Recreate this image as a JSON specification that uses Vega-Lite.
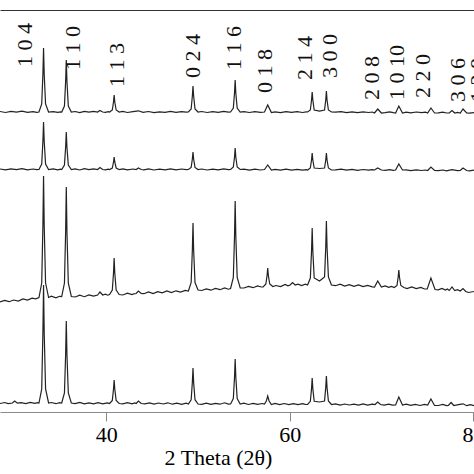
{
"$schema":"https://vega.github.io/schema/vega-lite/v6.json",
"width":474,"height":402,
"autosize":{"type":"none"},
"padding":{"left":0,"right":0,"top":10,"bottom":62},
"background":"white",
"config":{"view":{"stroke":null}},
"datasets":{
"xrd":[
{"s":"a","t":28.4,"i":300.5},{"s":"a","t":29.0,"i":299.5},{"s":"a","t":29.6,"i":300.6},{"s":"a","t":30.2,"i":299.8},{"s":"a","t":30.8,"i":300.8},{"s":"a","t":31.4,"i":299.6},{"s":"a","t":32.0,"i":300.4},{"s":"a","t":32.4,"i":299.7},
{"s":"a","t":32.65,"i":300},{"s":"a","t":32.95,"i":308},{"s":"a","t":33.08,"i":338},{"s":"a","t":33.15,"i":364},{"s":"a","t":33.22,"i":338},{"s":"a","t":33.37,"i":308},{"s":"a","t":33.7,"i":300},
{"s":"a","t":34.2,"i":300.3},{"s":"a","t":34.7,"i":299.6},{"s":"a","t":35.0,"i":300.2},
{"s":"a","t":35.13,"i":300},{"s":"a","t":35.43,"i":306},{"s":"a","t":35.56,"i":331},{"s":"a","t":35.63,"i":352},{"s":"a","t":35.70,"i":331},{"s":"a","t":35.85,"i":306},{"s":"a","t":36.18,"i":300},
{"s":"a","t":36.6,"i":300.5},{"s":"a","t":37.1,"i":299.4},{"s":"a","t":37.6,"i":300.6},{"s":"a","t":38.1,"i":299.8},{"s":"a","t":38.6,"i":300.7},
{"s":"a","t":39.05,"i":300},{"s":"a","t":39.3,"i":301.5},{"s":"a","t":39.6,"i":300},
{"s":"a","t":39.9,"i":299.6},{"s":"a","t":40.2,"i":300.3},
{"s":"a","t":40.35,"i":300},{"s":"a","t":40.65,"i":302},{"s":"a","t":40.78,"i":310},{"s":"a","t":40.85,"i":317},{"s":"a","t":40.92,"i":310},{"s":"a","t":41.07,"i":302},{"s":"a","t":41.4,"i":300},
{"s":"a","t":41.8,"i":300.6},{"s":"a","t":42.3,"i":299.5},{"s":"a","t":42.9,"i":300.4},{"s":"a","t":43.5,"i":301.2},{"s":"a","t":44.0,"i":299.7},{"s":"a","t":44.6,"i":300.5},{"s":"a","t":45.2,"i":299.4},{"s":"a","t":45.8,"i":300.2},{"s":"a","t":46.4,"i":299.6},{"s":"a","t":47.0,"i":300.6},{"s":"a","t":47.6,"i":299.7},{"s":"a","t":48.2,"i":300.4},{"s":"a","t":48.7,"i":299.8},
{"s":"a","t":48.95,"i":300},{"s":"a","t":49.25,"i":303},{"s":"a","t":49.38,"i":316},{"s":"a","t":49.45,"i":326},{"s":"a","t":49.52,"i":316},{"s":"a","t":49.67,"i":303},{"s":"a","t":50.0,"i":300},
{"s":"a","t":50.4,"i":300.5},{"s":"a","t":51.0,"i":299.5},{"s":"a","t":51.6,"i":300.3},{"s":"a","t":52.2,"i":299.6},{"s":"a","t":52.8,"i":300.6},{"s":"a","t":53.3,"i":299.8},
{"s":"a","t":53.55,"i":300},{"s":"a","t":53.85,"i":304},{"s":"a","t":53.98,"i":319},{"s":"a","t":54.05,"i":332},{"s":"a","t":54.12,"i":319},{"s":"a","t":54.27,"i":304},{"s":"a","t":54.6,"i":300},
{"s":"a","t":55.0,"i":300.4},{"s":"a","t":55.6,"i":299.5},{"s":"a","t":56.2,"i":300.3},{"s":"a","t":56.8,"i":299.6},
{"s":"a","t":57.25,"i":300},{"s":"a","t":57.6,"i":307},{"s":"a","t":58.0,"i":299.5},
{"s":"a","t":58.4,"i":300.2},{"s":"a","t":59.0,"i":299.4},{"s":"a","t":59.6,"i":300.4},{"s":"a","t":60.2,"i":299.6},{"s":"a","t":60.8,"i":300.3},{"s":"a","t":61.4,"i":299.5},{"s":"a","t":61.8,"i":300.1},
{"s":"a","t":61.95,"i":300},{"s":"a","t":62.25,"i":302},{"s":"a","t":62.38,"i":312},{"s":"a","t":62.45,"i":320},{"s":"a","t":62.52,"i":312},{"s":"a","t":62.67,"i":302},{"s":"a","t":63.25,"i":300.8},
{"s":"a","t":63.8,"i":302},{"s":"a","t":63.93,"i":312},{"s":"a","t":64.0,"i":321},{"s":"a","t":64.07,"i":312},{"s":"a","t":64.22,"i":302},{"s":"a","t":64.55,"i":300},
{"s":"a","t":65.0,"i":299.8},{"s":"a","t":65.6,"i":300.3},{"s":"a","t":66.2,"i":299.3},{"s":"a","t":66.8,"i":300.1},{"s":"a","t":67.4,"i":299.4},{"s":"a","t":68.0,"i":300.2},{"s":"a","t":68.6,"i":299.5},{"s":"a","t":69.0,"i":300.0},
{"s":"a","t":69.25,"i":299},{"s":"a","t":69.6,"i":303},{"s":"a","t":70.0,"i":299},
{"s":"a","t":70.4,"i":299.4},{"s":"a","t":70.9,"i":300.1},{"s":"a","t":71.3,"i":299.3},
{"s":"a","t":71.55,"i":299},{"s":"a","t":71.9,"i":306},{"s":"a","t":72.3,"i":299},
{"s":"a","t":72.7,"i":299.9},{"s":"a","t":73.2,"i":299.2},{"s":"a","t":73.8,"i":300.0},{"s":"a","t":74.4,"i":299.3},{"s":"a","t":74.8,"i":299.8},
{"s":"a","t":75.05,"i":299},{"s":"a","t":75.4,"i":304},{"s":"a","t":75.8,"i":299},
{"s":"a","t":76.2,"i":299.1},{"s":"a","t":76.7,"i":299.8},{"s":"a","t":77.1,"i":299.0},
{"s":"a","t":77.4,"i":299},{"s":"a","t":77.7,"i":301.5},{"s":"a","t":78.0,"i":299},
{"s":"a","t":78.3,"i":299.6},
{"s":"a","t":78.6,"i":299},{"s":"a","t":78.9,"i":303},{"s":"a","t":79.3,"i":299},
{"s":"a","t":79.6,"i":298.8},{"s":"a","t":80.1,"i":299.4},

{"s":"b","t":28.4,"i":243},{"s":"b","t":29.0,"i":242.2},{"s":"b","t":29.6,"i":243.2},{"s":"b","t":30.2,"i":242.3},{"s":"b","t":30.8,"i":243.3},{"s":"b","t":31.4,"i":242.1},{"s":"b","t":32.0,"i":243},{"s":"b","t":32.4,"i":242.4},
{"s":"b","t":32.65,"i":242.5},{"s":"b","t":32.95,"i":248},{"s":"b","t":33.08,"i":271},{"s":"b","t":33.15,"i":290},{"s":"b","t":33.22,"i":271},{"s":"b","t":33.37,"i":248},{"s":"b","t":33.7,"i":242.5},
{"s":"b","t":34.2,"i":243.1},{"s":"b","t":34.7,"i":242.2},{"s":"b","t":35.0,"i":242.9},
{"s":"b","t":35.13,"i":242.5},{"s":"b","t":35.43,"i":247},{"s":"b","t":35.56,"i":265},{"s":"b","t":35.63,"i":280},{"s":"b","t":35.70,"i":265},{"s":"b","t":35.85,"i":247},{"s":"b","t":36.18,"i":242.5},
{"s":"b","t":36.6,"i":243.2},{"s":"b","t":37.1,"i":242},{"s":"b","t":37.6,"i":243.3},{"s":"b","t":38.1,"i":242.3},{"s":"b","t":38.6,"i":243.1},
{"s":"b","t":39.05,"i":242.5},{"s":"b","t":39.3,"i":244.5},{"s":"b","t":39.6,"i":242.5},
{"s":"b","t":39.9,"i":242.1},{"s":"b","t":40.2,"i":242.9},
{"s":"b","t":40.35,"i":242.5},{"s":"b","t":40.65,"i":244},{"s":"b","t":40.78,"i":250},{"s":"b","t":40.85,"i":255},{"s":"b","t":40.92,"i":250},{"s":"b","t":41.07,"i":244},{"s":"b","t":41.4,"i":242.5},
{"s":"b","t":41.8,"i":243.2},{"s":"b","t":42.3,"i":242.1},{"s":"b","t":42.9,"i":243},
{"s":"b","t":43.25,"i":242.5},{"s":"b","t":43.5,"i":244},{"s":"b","t":43.8,"i":242.5},
{"s":"b","t":44.1,"i":242.2},{"s":"b","t":44.6,"i":243.2},{"s":"b","t":45.2,"i":242},{"s":"b","t":45.8,"i":242.9},{"s":"b","t":46.4,"i":242.1},{"s":"b","t":47.0,"i":243.1},{"s":"b","t":47.6,"i":242.2},{"s":"b","t":48.2,"i":243},{"s":"b","t":48.7,"i":242.3},
{"s":"b","t":48.95,"i":242.5},{"s":"b","t":49.25,"i":244.6},{"s":"b","t":49.38,"i":253},{"s":"b","t":49.45,"i":260},{"s":"b","t":49.52,"i":253},{"s":"b","t":49.67,"i":244.6},{"s":"b","t":50.0,"i":242.5},
{"s":"b","t":50.4,"i":243},{"s":"b","t":51.0,"i":242},{"s":"b","t":51.6,"i":242.9},{"s":"b","t":52.2,"i":242.1},{"s":"b","t":52.8,"i":243.1},{"s":"b","t":53.3,"i":242.3},
{"s":"b","t":53.55,"i":242.5},{"s":"b","t":53.85,"i":245},{"s":"b","t":53.98,"i":255},{"s":"b","t":54.05,"i":264},{"s":"b","t":54.12,"i":255},{"s":"b","t":54.27,"i":245},{"s":"b","t":54.6,"i":242.5},
{"s":"b","t":55.0,"i":242.9},{"s":"b","t":55.6,"i":241.9},{"s":"b","t":56.2,"i":242.8},{"s":"b","t":56.8,"i":242},
{"s":"b","t":57.25,"i":242.5},{"s":"b","t":57.6,"i":247},{"s":"b","t":58.0,"i":242},
{"s":"b","t":58.4,"i":242.7},{"s":"b","t":59.0,"i":241.8},{"s":"b","t":59.6,"i":242.8},{"s":"b","t":60.2,"i":241.9},{"s":"b","t":60.8,"i":242.7},{"s":"b","t":61.4,"i":241.8},{"s":"b","t":61.8,"i":242.4},
{"s":"b","t":61.95,"i":242},{"s":"b","t":62.25,"i":244},{"s":"b","t":62.38,"i":252},{"s":"b","t":62.45,"i":259},{"s":"b","t":62.52,"i":252},{"s":"b","t":62.67,"i":244},{"s":"b","t":63.25,"i":243.5},
{"s":"b","t":63.8,"i":244},{"s":"b","t":63.93,"i":252},{"s":"b","t":64.0,"i":259},{"s":"b","t":64.07,"i":252},{"s":"b","t":64.22,"i":244},{"s":"b","t":64.55,"i":242},
{"s":"b","t":65.0,"i":242.2},{"s":"b","t":65.6,"i":242.8},{"s":"b","t":66.2,"i":241.8},{"s":"b","t":66.8,"i":242.6},{"s":"b","t":67.4,"i":241.7},{"s":"b","t":68.0,"i":242.5},{"s":"b","t":68.6,"i":241.8},{"s":"b","t":69.0,"i":242.3},
{"s":"b","t":69.25,"i":242},{"s":"b","t":69.6,"i":244},{"s":"b","t":70.0,"i":242},
{"s":"b","t":70.4,"i":241.7},{"s":"b","t":70.9,"i":242.4},{"s":"b","t":71.3,"i":241.6},
{"s":"b","t":71.55,"i":242},{"s":"b","t":71.9,"i":248},{"s":"b","t":72.3,"i":242},
{"s":"b","t":72.7,"i":242.2},{"s":"b","t":73.2,"i":241.4},{"s":"b","t":73.8,"i":242.2},{"s":"b","t":74.4,"i":241.5},{"s":"b","t":74.8,"i":242},
{"s":"b","t":75.05,"i":241.5},{"s":"b","t":75.4,"i":245},{"s":"b","t":75.8,"i":241.5},
{"s":"b","t":76.2,"i":241.3},{"s":"b","t":76.7,"i":242},{"s":"b","t":77.1,"i":241.2},{"s":"b","t":77.7,"i":242.3},{"s":"b","t":78.3,"i":241.3},
{"s":"b","t":78.6,"i":241.5},{"s":"b","t":78.9,"i":244},{"s":"b","t":79.3,"i":241.5},
{"s":"b","t":79.6,"i":241.2},{"s":"b","t":80.1,"i":241.8},

{"s":"c","t":28.4,"i":110},{"s":"c","t":28.9,"i":111.5},{"s":"c","t":29.4,"i":110.3},{"s":"c","t":29.9,"i":112},{"s":"c","t":30.4,"i":111},{"s":"c","t":30.9,"i":113},{"s":"c","t":31.4,"i":112},{"s":"c","t":31.9,"i":113.8},{"s":"c","t":32.3,"i":113.2},
{"s":"c","t":32.65,"i":114.5},{"s":"c","t":32.95,"i":129},{"s":"c","t":33.08,"i":187},{"s":"c","t":33.15,"i":236},{"s":"c","t":33.22,"i":187},{"s":"c","t":33.37,"i":129},{"s":"c","t":33.7,"i":114.5},
{"s":"c","t":34.0,"i":115.8},{"s":"c","t":34.5,"i":114.2},{"s":"c","t":34.9,"i":115.7},
{"s":"c","t":35.13,"i":115.5},{"s":"c","t":35.43,"i":129},{"s":"c","t":35.56,"i":181},{"s":"c","t":35.63,"i":225},{"s":"c","t":35.70,"i":181},{"s":"c","t":35.85,"i":129},{"s":"c","t":36.18,"i":115.5},
{"s":"c","t":36.6,"i":115},{"s":"c","t":37.1,"i":116.8},{"s":"c","t":37.6,"i":115.3},{"s":"c","t":38.1,"i":117},{"s":"c","t":38.6,"i":115.8},
{"s":"c","t":39.05,"i":117},{"s":"c","t":39.3,"i":120},{"s":"c","t":39.6,"i":117},
{"s":"c","t":39.9,"i":117.8},{"s":"c","t":40.15,"i":116.8},
{"s":"c","t":40.35,"i":117.5},{"s":"c","t":40.65,"i":122},{"s":"c","t":40.78,"i":139},{"s":"c","t":40.85,"i":154},{"s":"c","t":40.92,"i":139},{"s":"c","t":41.07,"i":122},{"s":"c","t":41.4,"i":117.5},
{"s":"c","t":41.8,"i":117},{"s":"c","t":42.3,"i":118.8},{"s":"c","t":42.8,"i":117.5},{"s":"c","t":43.0,"i":118.2},
{"s":"c","t":43.25,"i":118.5},{"s":"c","t":43.5,"i":121},{"s":"c","t":43.8,"i":118.5},
{"s":"c","t":44.1,"i":118.3},{"s":"c","t":44.6,"i":120},{"s":"c","t":45.1,"i":118.5},{"s":"c","t":45.6,"i":120.4},{"s":"c","t":46.1,"i":119.2},{"s":"c","t":46.6,"i":121},{"s":"c","t":47.1,"i":119.5},{"s":"c","t":47.6,"i":121.2},{"s":"c","t":48.1,"i":120},{"s":"c","t":48.6,"i":121.6},
{"s":"c","t":48.95,"i":121},{"s":"c","t":49.25,"i":129.5},{"s":"c","t":49.38,"i":162},{"s":"c","t":49.45,"i":189},{"s":"c","t":49.52,"i":162},{"s":"c","t":49.67,"i":129.5},{"s":"c","t":50.0,"i":122},
{"s":"c","t":50.4,"i":121.5},{"s":"c","t":50.9,"i":123},{"s":"c","t":51.4,"i":121.8},{"s":"c","t":51.9,"i":123.5},{"s":"c","t":52.4,"i":122.3},{"s":"c","t":52.9,"i":124},{"s":"c","t":53.3,"i":122.8},
{"s":"c","t":53.55,"i":123.5},{"s":"c","t":53.85,"i":134.5},{"s":"c","t":53.98,"i":176},{"s":"c","t":54.05,"i":211},{"s":"c","t":54.12,"i":176},{"s":"c","t":54.27,"i":134.5},{"s":"c","t":54.6,"i":124},
{"s":"c","t":55.0,"i":124},{"s":"c","t":55.5,"i":125.6},{"s":"c","t":56.0,"i":124.3},{"s":"c","t":56.5,"i":126},{"s":"c","t":56.9,"i":125},
{"s":"c","t":57.1,"i":125},{"s":"c","t":57.4,"i":128},{"s":"c","t":57.53,"i":136.5},{"s":"c","t":57.6,"i":144},{"s":"c","t":57.67,"i":136.5},{"s":"c","t":57.82,"i":128},{"s":"c","t":58.15,"i":125.5},
{"s":"c","t":58.5,"i":126.5},{"s":"c","t":59.0,"i":125.5},{"s":"c","t":59.5,"i":127.5},{"s":"c","t":59.8,"i":126.2},
{"s":"c","t":60.05,"i":127},{"s":"c","t":60.3,"i":129.5},{"s":"c","t":60.6,"i":127},
{"s":"c","t":60.9,"i":127.8},{"s":"c","t":61.3,"i":126.5},{"s":"c","t":61.7,"i":127.8},
{"s":"c","t":61.95,"i":127},{"s":"c","t":62.25,"i":134},{"s":"c","t":62.38,"i":161},{"s":"c","t":62.45,"i":184},{"s":"c","t":62.52,"i":161},{"s":"c","t":62.67,"i":134},{"s":"c","t":63.25,"i":131},
{"s":"c","t":63.8,"i":135},{"s":"c","t":63.93,"i":165},{"s":"c","t":64.0,"i":191},{"s":"c","t":64.07,"i":165},{"s":"c","t":64.22,"i":135},{"s":"c","t":64.55,"i":127},
{"s":"c","t":65.0,"i":126.3},{"s":"c","t":65.5,"i":127.8},{"s":"c","t":66.0,"i":126},{"s":"c","t":66.5,"i":127.3},{"s":"c","t":67.0,"i":125.6},{"s":"c","t":67.5,"i":127},{"s":"c","t":68.0,"i":125.4},{"s":"c","t":68.5,"i":126.6},{"s":"c","t":69.0,"i":125.2},
{"s":"c","t":69.25,"i":125},{"s":"c","t":69.6,"i":131},{"s":"c","t":70.0,"i":125},
{"s":"c","t":70.4,"i":126},{"s":"c","t":70.8,"i":124.6},{"s":"c","t":71.1,"i":125.6},
{"s":"c","t":71.4,"i":124.5},{"s":"c","t":71.7,"i":126.5},{"s":"c","t":71.83,"i":135},{"s":"c","t":71.9,"i":142},{"s":"c","t":71.97,"i":135},{"s":"c","t":72.12,"i":126.5},{"s":"c","t":72.45,"i":124.5},
{"s":"c","t":72.8,"i":123.5},{"s":"c","t":73.3,"i":125},{"s":"c","t":73.8,"i":123.4},{"s":"c","t":74.3,"i":124.6},{"s":"c","t":74.7,"i":123},
{"s":"c","t":75.0,"i":123},{"s":"c","t":75.4,"i":134},{"s":"c","t":75.85,"i":122.5},
{"s":"c","t":76.2,"i":122.2},{"s":"c","t":76.6,"i":123.6},{"s":"c","t":77.0,"i":122},{"s":"c","t":77.2,"i":123},
{"s":"c","t":77.4,"i":121.5},{"s":"c","t":77.7,"i":125},{"s":"c","t":78.0,"i":121.5},
{"s":"c","t":78.3,"i":122.4},
{"s":"c","t":78.6,"i":121},{"s":"c","t":78.9,"i":123.5},{"s":"c","t":79.2,"i":120.5},
{"s":"c","t":79.5,"i":119.5},{"s":"c","t":80.1,"i":120.5},

{"s":"d","t":28.4,"i":8.5},{"s":"d","t":28.9,"i":9.5},{"s":"d","t":29.3,"i":8.4},
{"s":"d","t":29.75,"i":9},{"s":"d","t":30.0,"i":11},{"s":"d","t":30.3,"i":8.8},
{"s":"d","t":30.7,"i":9.4},{"s":"d","t":31.2,"i":8.3},{"s":"d","t":31.7,"i":9.6},{"s":"d","t":32.2,"i":8.6},{"s":"d","t":32.5,"i":9.3},
{"s":"d","t":32.65,"i":9},{"s":"d","t":32.95,"i":23},{"s":"d","t":33.08,"i":80},{"s":"d","t":33.15,"i":127},{"s":"d","t":33.22,"i":80},{"s":"d","t":33.37,"i":23},{"s":"d","t":33.7,"i":9},
{"s":"d","t":34.0,"i":9.5},{"s":"d","t":34.5,"i":8.3},{"s":"d","t":34.9,"i":9.4},
{"s":"d","t":35.13,"i":9},{"s":"d","t":35.43,"i":19},{"s":"d","t":35.56,"i":58},{"s":"d","t":35.63,"i":91},{"s":"d","t":35.70,"i":58},{"s":"d","t":35.85,"i":19},{"s":"d","t":36.18,"i":9},
{"s":"d","t":36.6,"i":8.4},{"s":"d","t":37.1,"i":9.6},{"s":"d","t":37.6,"i":8.2},{"s":"d","t":38.1,"i":9.2},{"s":"d","t":38.6,"i":8.1},{"s":"d","t":39.1,"i":9.3},{"s":"d","t":39.6,"i":8.2},{"s":"d","t":40.1,"i":9.1},
{"s":"d","t":40.35,"i":8.5},{"s":"d","t":40.65,"i":11.5},{"s":"d","t":40.78,"i":23},{"s":"d","t":40.85,"i":32},{"s":"d","t":40.92,"i":23},{"s":"d","t":41.07,"i":11.5},{"s":"d","t":41.4,"i":8.5},
{"s":"d","t":41.8,"i":8.2},{"s":"d","t":42.3,"i":9.3},{"s":"d","t":42.8,"i":8.1},{"s":"d","t":43.1,"i":9},
{"s":"d","t":43.25,"i":8.5},{"s":"d","t":43.5,"i":11},{"s":"d","t":43.8,"i":8.5},
{"s":"d","t":44.2,"i":8.2},{"s":"d","t":44.7,"i":9.1},{"s":"d","t":45.2,"i":7.9},{"s":"d","t":45.7,"i":9},{"s":"d","t":46.2,"i":8},{"s":"d","t":46.7,"i":9.2},{"s":"d","t":47.2,"i":7.8},{"s":"d","t":47.7,"i":8.8},{"s":"d","t":48.2,"i":7.7},{"s":"d","t":48.7,"i":8.9},
{"s":"d","t":48.95,"i":8},{"s":"d","t":49.25,"i":12.3},{"s":"d","t":49.38,"i":29.6},{"s":"d","t":49.45,"i":44},{"s":"d","t":49.52,"i":29.6},{"s":"d","t":49.67,"i":12.3},{"s":"d","t":50.0,"i":8},
{"s":"d","t":50.4,"i":7.7},{"s":"d","t":50.9,"i":8.9},{"s":"d","t":51.4,"i":7.6},{"s":"d","t":51.9,"i":8.7},{"s":"d","t":52.4,"i":7.8},{"s":"d","t":52.9,"i":9.2},{"s":"d","t":53.3,"i":7.9},
{"s":"d","t":53.55,"i":8},{"s":"d","t":53.85,"i":13.4},{"s":"d","t":53.98,"i":35},{"s":"d","t":54.05,"i":53},{"s":"d","t":54.12,"i":35},{"s":"d","t":54.27,"i":13.4},{"s":"d","t":54.6,"i":8},
{"s":"d","t":55.0,"i":8.8},{"s":"d","t":55.5,"i":7.5},{"s":"d","t":56.0,"i":8.6},{"s":"d","t":56.5,"i":7.6},{"s":"d","t":57.0,"i":8.5},
{"s":"d","t":57.25,"i":8},{"s":"d","t":57.45,"i":11},{"s":"d","t":57.6,"i":16},{"s":"d","t":57.75,"i":11},{"s":"d","t":58.0,"i":7.5},
{"s":"d","t":58.4,"i":8.6},{"s":"d","t":58.9,"i":7.3},{"s":"d","t":59.4,"i":8.5},{"s":"d","t":59.9,"i":7.4},{"s":"d","t":60.4,"i":8.4},{"s":"d","t":60.9,"i":7.3},{"s":"d","t":61.4,"i":8.3},{"s":"d","t":61.7,"i":7.6},
{"s":"d","t":61.95,"i":7.5},{"s":"d","t":62.25,"i":10.7},{"s":"d","t":62.38,"i":23.4},{"s":"d","t":62.45,"i":34},{"s":"d","t":62.52,"i":23.4},{"s":"d","t":62.67,"i":10.7},{"s":"d","t":63.25,"i":10},
{"s":"d","t":63.8,"i":11},{"s":"d","t":63.93,"i":24.6},{"s":"d","t":64.0,"i":36},{"s":"d","t":64.07,"i":24.6},{"s":"d","t":64.22,"i":11},{"s":"d","t":64.55,"i":7.5},
{"s":"d","t":65.0,"i":8.2},{"s":"d","t":65.5,"i":6.9},{"s":"d","t":66.0,"i":8},{"s":"d","t":66.5,"i":7},{"s":"d","t":67.0,"i":7.9},{"s":"d","t":67.5,"i":6.8},{"s":"d","t":68.0,"i":8.1},{"s":"d","t":68.5,"i":6.9},{"s":"d","t":69.0,"i":7.9},
{"s":"d","t":69.3,"i":7.5},{"s":"d","t":69.6,"i":10},{"s":"d","t":69.9,"i":7.5},
{"s":"d","t":70.3,"i":6.8},{"s":"d","t":70.8,"i":7.9},{"s":"d","t":71.2,"i":6.9},
{"s":"d","t":71.55,"i":7},{"s":"d","t":71.9,"i":15},{"s":"d","t":72.3,"i":7},
{"s":"d","t":72.7,"i":7.8},{"s":"d","t":73.2,"i":6.6},{"s":"d","t":73.7,"i":7.7},{"s":"d","t":74.2,"i":6.5},{"s":"d","t":74.7,"i":7.6},
{"s":"d","t":75.05,"i":7},{"s":"d","t":75.4,"i":13},{"s":"d","t":75.8,"i":6.5},
{"s":"d","t":76.2,"i":6.5},{"s":"d","t":76.7,"i":7.6},{"s":"d","t":77.1,"i":6.4},
{"s":"d","t":77.3,"i":6.5},{"s":"d","t":77.6,"i":9.5},{"s":"d","t":77.9,"i":6.5},
{"s":"d","t":78.4,"i":7.4},{"s":"d","t":78.9,"i":8.2},{"s":"d","t":79.3,"i":6.3},{"s":"d","t":79.7,"i":7.3},{"s":"d","t":80.1,"i":6.4}
],
"labels":[
{"lab":"1 0 4","t":31.1,"i":345},
{"lab":"1 1 0","t":36.4,"i":342},
{"lab":"1 1 3","t":41.2,"i":325},
{"lab":"0 2 4","t":49.5,"i":334},
{"lab":"1 1 6","t":53.9,"i":342},
{"lab":"0 1 8","t":57.3,"i":319},
{"lab":"2 1 4","t":61.7,"i":332},
{"lab":"3 0 0","t":64.4,"i":334},
{"lab":"2 0 8","t":69.0,"i":312},
{"lab":"1 0 10","t":71.7,"i":312},
{"lab":"2 2 0","t":74.55,"i":314},
{"lab":"3 0 6","t":78.35,"i":310},
{"lab":"1 2 8","t":80.5,"i":310}
]
},
"layer":[
{"data":{"name":"xrd"},
 "mark":{"type":"line","stroke":"#222222","strokeWidth":1.2,"clip":true},
 "encoding":{
  "x":{"field":"t","type":"quantitative","scale":{"domain":[28.4,80.1],"nice":false,"zero":false},
       "axis":{"orient":"bottom","values":[40,60,80],"grid":false,"domainColor":"#8a8a8a","domainWidth":1,"tickColor":"#8a8a8a","tickSize":9,"tickWidth":1,
               "labelFont":"Liberation Serif","labelFontSize":22,"labelColor":"#000000","labelPadding":3,"labelFlush":false,"labelOverlap":false,
               "title":"2 Theta (2θ)","titleFont":"Liberation Serif","titleFontSize":22,"titleFontWeight":"normal","titleColor":"#000000",
               "titleX":218,"titleY":52,"titleAlign":"center","titleBaseline":"alphabetic"}},
  "y":{"field":"i","type":"quantitative","scale":{"domain":[0,402],"nice":false,"zero":false},"axis":null},
  "detail":{"field":"s","type":"nominal"}
 }},
{"data":{"name":"labels"},
 "mark":{"type":"text","angle":270,"align":"left","baseline":"middle","font":"Liberation Serif","fontSize":22,"color":"#111111"},
 "encoding":{
  "x":{"field":"t","type":"quantitative","axis":{"orient":"top","grid":false,"ticks":false,"labels":false,"title":null,"domainColor":"#333333","domainWidth":1}},
  "y":{"field":"i","type":"quantitative"},
  "text":{"field":"lab","type":"nominal"}
 }}
],
"resolve":{"axis":{"x":"independent"}}
}
